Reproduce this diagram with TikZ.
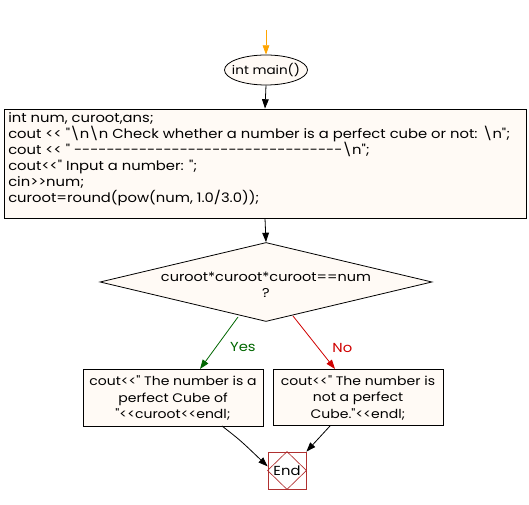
\documentclass[tikz,border=0pt]{standalone}
\usepackage{fontspec}
\setmainfont{Poppins}[Ligatures={TeXOff,NoCommon},FakeStretch=1.13]
\usetikzlibrary{arrows.meta,shapes.geometric}
\definecolor{nodefill}{HTML}{FFFAF5}
\definecolor{startorange}{HTML}{FFA500}
\definecolor{yesgreen}{HTML}{006600}
\definecolor{nored}{HTML}{D00000}
\definecolor{endred}{HTML}{B03030}
\tikzset{
  px/.style={x=0.75pt,y=-0.75pt},
  base/.style={draw=black,fill=nodefill,line width=0.6pt,font=\fontsize{9.3}{12.4}\selectfont},
  flow/.style={-{Triangle[length=7pt,width=5pt]},line width=0.6pt},
  lbl/.style={font=\fontsize{9.8}{12}\selectfont}
}
\begin{document}
\begin{tikzpicture}[px]
\useasboundingbox (0,0) rectangle (529,505);
\coordinate (s) at (266,30);
\node[base,ellipse,minimum width=83*0.75pt,minimum height=30*0.75pt,inner xsep=-8pt,inner ysep=0pt,font=\fontsize{9}{12}\selectfont] (main) at (266,70) {int main()};
\node[base,rectangle,minimum width=522*0.75pt,minimum height=109*0.75pt,inner sep=0pt] (init) at (265,163.5) {};
\node[lbl,anchor=north west,align=left,inner sep=0pt] (code) at (8,112) {int num, curoot,ans;\\
cout << "\textbackslash n\textbackslash n Check whether a number is a perfect cube or not: \textbackslash n";\\
cout << " ---------------------------------\textbackslash n";\\
cout<<" Input a number: ";\\
cin>>num;\\
curoot=round(pow(num, 1.0/3.0));};
\node[base,diamond,aspect=4.2,minimum width=332*0.75pt,minimum height=79*0.75pt,inner sep=0pt,align=center] (cond) at (266,282) {};
\node[lbl,align=center,font=\fontsize{9.6}{12}\selectfont] (condt) at (266,285) {curoot*curoot*curoot==num\\?};
\node[base,rectangle,minimum width=180*0.75pt,minimum height=57*0.75pt,inner sep=0pt,align=center] (yes) at (173,398) {cout<<" The number is a\\perfect Cube of\\"<<curoot<<endl;};
\node[base,rectangle,minimum width=170*0.75pt,minimum height=56*0.75pt,inner sep=0pt,align=center] (no) at (358,397.5) {cout<<" The number is\\not a perfect\\Cube."<<endl;};
\node[draw=endred,fill=white,rectangle,minimum width=38*0.75pt,minimum height=37*0.75pt,inner sep=0pt,line width=0.6pt] (end) at (287,470.5) {};
\draw[endred,line width=0.5pt] (end.north) -- (end.east) -- (end.south) -- (end.west) -- cycle;
\node[lbl] (endt) at (287,471) {End};
\draw[flow,startorange] (s) -- (main.north);
\draw[flow] (main.south) -- (init.north);
\draw[flow] (init.south) -- (cond.north);
\coordinate (cy) at (238,317);
\coordinate (cn) at (293,316);
\coordinate (ey) at (200,369);
\coordinate (en) at (335,369);
\coordinate (yb) at (222,426);
\coordinate (nb) at (330,426);
\draw[flow,yesgreen] (cy) -- node[right=7pt,pos=0.58,text=yesgreen,lbl]{Yes} (ey);
\draw[flow,nored] (cn) -- node[right=7pt,pos=0.6,text=nored,lbl]{No} (en);
\draw[flow] (yb) .. controls (240,440) .. (end.168);
\draw[flow] (nb) -- (end.north east);
\end{tikzpicture}
\end{document}
